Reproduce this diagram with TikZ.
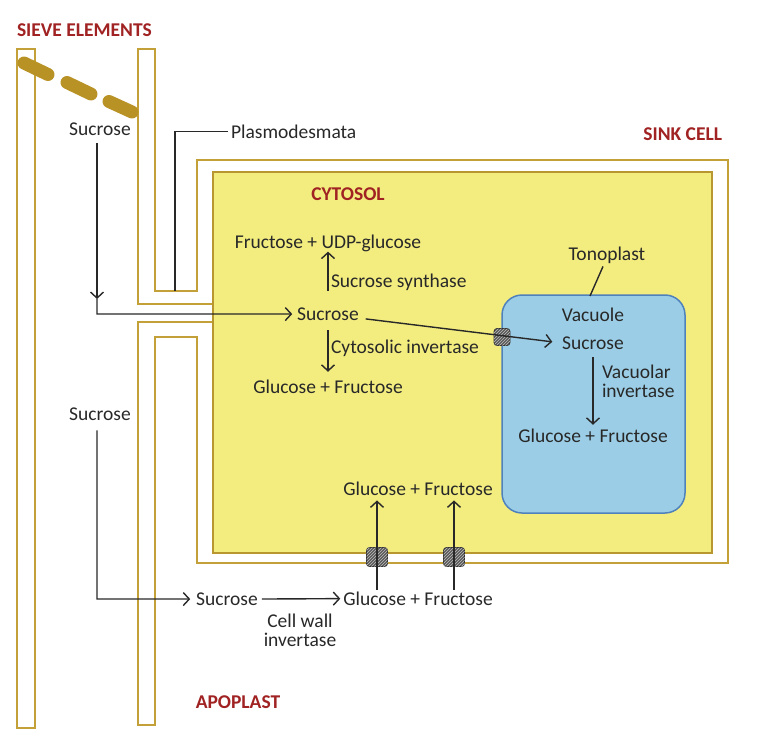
\documentclass[tikz,border=0pt]{standalone}
\usepackage{fontspec}
\setmainfont{Carlito}
\usetikzlibrary{arrows.meta,patterns}
\definecolor{wallgold}{RGB}{196,160,56}
\definecolor{plategold}{RGB}{184,146,36}
\definecolor{cytofill}{RGB}{243,237,128}
\definecolor{cytoedge}{RGB}{184,150,48}
\definecolor{vacfill}{RGB}{155,206,230}
\definecolor{vacedge}{RGB}{79,129,189}
\definecolor{hred}{RGB}{160,34,34}
\definecolor{txt}{RGB}{40,40,40}
\begin{document}
\begin{tikzpicture}[x=1pt,y=-1pt,
  every node/.style={inner sep=0pt, outer sep=0pt, text=txt, font=\fontsize{19.5}{19}\selectfont},
  hdr/.style={text=hred, font=\fontsize{19.5}{19}\selectfont\bfseries},
  lbl/.style={anchor=base},
  wall/.style={draw=wallgold, line width=2pt, line join=miter},
  plate/.style={draw=plategold, line width=13pt, line cap=round},
  arr/.style={draw=txt, line width=1.4pt, -{Straight Barb[length=6pt,width=13pt]}},
  ptr/.style={draw=txt, line width=1.4pt},
  trans/.style={draw=black!80, line width=0.8pt, rounded corners=3pt, fill=black!65,
    postaction={pattern=north east lines, pattern color=black!25}}]
\useasboundingbox (0,0) rectangle (768,749);

% sieve element walls and sink cell wall
\draw[wall] (17,49) rectangle (35,728);
\draw[wall] (213,304) -- (138,304) -- (138,49) -- (155,49) -- (155,291) -- (197,291)
  -- (197,160) -- (728,160) -- (728,563) -- (197,563) -- (197,337) -- (155,337)
  -- (155,725) -- (138,725) -- (138,322) -- (213,322);

% sieve plate
\draw[plate] (24,63) -- (48,74.5);
\draw[plate] (67,82.5) -- (91,94);
\draw[plate] (109,101.5) -- (132,112);

% cytosol and vacuole
\draw[draw=cytoedge, fill=cytofill, line width=2.2pt] (213,172) rectangle (712,553);
\draw[draw=vacedge, fill=vacfill, line width=1.5pt, rounded corners=20pt] (502,295) rectangle (685,513);

% transporters
\node[trans, minimum width=16pt, minimum height=17pt] (tr1) at (502,337) {};
\node[trans, minimum width=21pt, minimum height=19pt] (tr2) at (377,557) {};
\node[trans, minimum width=21pt, minimum height=19pt] (tr3) at (454,557) {};

% labels
\node[hdr, anchor=base west] (sieve) at (17,36.3) {SIEVE ELEMENTS};
\node[hdr, anchor=base east] (sink) at (722,140.3) {SINK CELL};
\node[hdr, lbl] (cyto) at (348,200.3) {CYTOSOL};
\node[hdr, lbl] (apo) at (238,708.3) {APOPLAST};

\node[lbl] (sucTop) at (100,135.3) {Sucrose};
\node[anchor=base west] (plasmo) at (231,138.3) {Plasmodesmata};
\node[lbl] (fructUDP) at (328,248.3) {Fructose + UDP-glucose};
\node[anchor=base west] (synth) at (331,287.3) {Sucrose synthase};
\node[lbl] (sucCyt) at (328,320.3) {Sucrose};
\node[anchor=base west] (cytinv) at (331,353.3) {Cytosolic invertase};
\node[lbl] (gluCyt) at (328,393.3) {Glucose + Fructose};
\node[lbl] (tono) at (607,260.3) {Tonoplast};
\node[lbl] (vacl) at (593,321.3) {Vacuole};
\node[lbl] (sucVac) at (593,349.3) {Sucrose};
\node[anchor=west, align=left] (vacinv) at (602,381) {Vacuolar\\invertase};
\node[lbl] (gluVac) at (593,442.3) {Glucose + Fructose};
\node[lbl] (gluLow) at (418,495.3) {Glucose + Fructose};
\node[lbl] (sucLow) at (100,420.3) {Sucrose};
\node[lbl] (sucApo) at (227,605.3) {Sucrose};
\node[lbl] (gluApo) at (418,605.3) {Glucose + Fructose};
\node[align=center] (cwinv) at (300,630) {Cell wall\\invertase};

% pointers
\coordinate (pd) at (175,291);
\draw[ptr] (pd) -- (pd |- plasmo.west) -- ([xshift=-3pt]plasmo.west);
\coordinate (tp) at (590,296);
\draw[ptr] ([xshift=-4pt,yshift=-3pt]tono.south) -- (tp);

% arrows
\coordinate (bendA) at (97,314);
\coordinate (midA) at (97,299);
\draw[arr, shorten <=8pt] (sucTop.south -| bendA) -- (midA);
\draw[arr, shorten >=5pt] (midA) -- (bendA) -- (sucCyt.west);
\draw[arr, shorten <=7pt, shorten >=10pt] ([yshift=-4pt]sucCyt.east) -- (sucVac.west);
\draw[arr, shorten <=17pt] (sucCyt.north) -- (fructUDP.south);
\draw[arr, shorten <=10pt, shorten >=8pt] (sucCyt.south) -- (gluCyt.north);
\draw[arr, shorten <=8pt, shorten >=4pt] (sucVac.south) -- (gluVac.north);
\draw[arr, shorten <=2pt, shorten >=5pt] (gluApo.north -| tr2) -- (gluLow.south -| tr2);
\draw[arr, shorten <=2pt, shorten >=5pt] (gluApo.north -| tr3) -- (gluLow.south -| tr3);
\draw[arr, shorten <=4pt, shorten >=3pt] (sucApo.east) -- (gluApo.west);
\coordinate (bendB) at (97,599);
\draw[arr, shorten <=10pt, shorten >=6pt] (sucLow.south -| bendB) -- (bendB) -- (sucApo.west);
\end{tikzpicture}
\end{document}
